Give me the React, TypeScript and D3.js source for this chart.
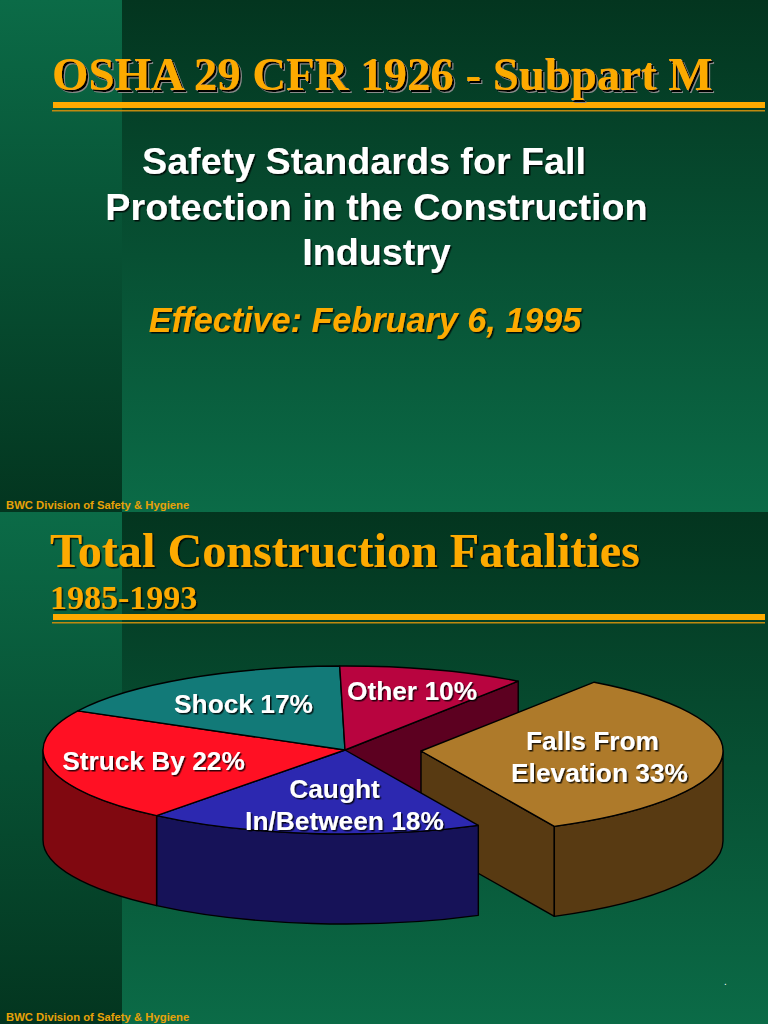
import React from "react";
import * as d3 from "d3";

const W = 768;
const H = 1024;

const categories = ["Falls From Elevation", "Caught In/Between", "Struck By", "Shock", "Other"];
const shares = [33, 18, 22, 17, 10];
const topColors = ["#ae7a2a", "#2c28b0", "#ff1023", "#127a78", "#b8043f"];
const sideColors = ["#583a12", "#161258", "#800810", "#0a4a48", "#5c0020"];
const labelLines = [
  ["Falls From", "Elevation 33%"],
  ["Caught", "In/Between 18%"],
  ["Struck By 22%"],
  ["Shock 17%"],
  ["Other 10%"],
];
const labelX = [
  [592.5, 599.5],
  [334.5, 344.5],
  [153.5],
  [243.5],
  [412],
];
const labelY = [750, 798, 770, 713, 700];

const subtitleLines = ["Safety Standards for Fall", "Protection in the Construction", "Industry"];
const subtitleX = [364, 376.5, 376.5];
const subtitleY = [174, 220, 265];

const rad = (d: number) => (d * Math.PI) / 180;
const cx = 345;
const cy = 750;
const rx = 302;
const ry = 84;
const depth = 90;
const explodeX = 76;
const explodeY = 1;

const pie = d3.pie<number>().sort(null).startAngle(rad(35)).endAngle(rad(395));
const arcs = pie(shares);

const xS = d3.scaleLinear().domain([-1, 1]).range([-rx, rx]);
const yS = d3.scaleLinear().domain([-1, 1]).range([-ry, ry]);
const px = (a: number) => xS(Math.sin(a));
const py = (a: number) => yS(-Math.cos(a));

function topPath(a0: number, a1: number) {
  const large = a1 - a0 > Math.PI ? 1 : 0;
  return `M0,0L${px(a0)},${py(a0)}A${rx},${ry} 0 ${large} 1 ${px(a1)},${py(a1)}Z`;
}
function sidePath(a0: number, a1: number) {
  const b0 = Math.max(a0, rad(90));
  const b1 = Math.min(a1, rad(270));
  if (b1 <= b0) return "";
  return `M${px(b0)},${py(b0)}A${rx},${ry} 0 0 1 ${px(b1)},${py(b1)}L${px(b1)},${py(b1) + depth}A${rx},${ry} 0 0 0 ${px(b0)},${py(b0) + depth}Z`;
}
function wallPath(a: number) {
  return `M0,0L${px(a)},${py(a)}L${px(a)},${py(a) + depth}L0,${depth}Z`;
}

function Slide({ y0 }: { y0: number }) {
  return (
    <g transform={`translate(0,${y0})`}>
      <rect x={0} y={0} width={W} height={512} fill="url(#panelRight)" />
      <rect x={0} y={0} width={122} height={512} fill="url(#panelLeft)" />
      <rect x={53} y={102} width={712} height={6} fill="#fdaa00" />
      <rect x={52} y={110} width={713} height={1.5} fill="#c08a10" />
      <text x={6} y={509 - 0} fontFamily="Liberation Sans" fontWeight={700} fontSize={11.3} fill="#e8a208">
        BWC Division of Safety &amp; Hygiene
      </text>
    </g>
  );
}

export default function App() {
  const falls = arcs[0];
  const main = arcs.slice(1);
  const other = arcs[4];
  const stroke = { stroke: "#000", strokeWidth: 1.4, strokeLinejoin: "round" as const };
  return (
    <svg
      width={W}
      height={H}
      viewBox={`0 0 ${W} ${H}`}
      style={{ position: "absolute", left: 0, top: 0, display: "block" }}
    >
      <defs>
        <linearGradient id="panelRight" x1="0" y1="0" x2="0" y2="1">
          <stop offset="0" stopColor="#03351f" />
          <stop offset="1" stopColor="#0b6b47" />
        </linearGradient>
        <linearGradient id="panelLeft" x1="0" y1="0" x2="0" y2="1">
          <stop offset="0" stopColor="#0b6b47" />
          <stop offset="1" stopColor="#03351f" />
        </linearGradient>
        <filter id="titleShadow" x="-5%" y="-20%" width="110%" height="140%">
          <feDropShadow dx={2} dy={2} stdDeviation={0.3} floodColor="#000" />
          <feDropShadow dx={1} dy={1} stdDeviation={0.3} floodColor="#8a8a8a" />
        </filter>
        <filter id="softShadow" x="-5%" y="-20%" width="110%" height="140%">
          <feDropShadow dx={1.5} dy={1.5} stdDeviation={0.7} floodColor="#000" floodOpacity={0.8} />
        </filter>
      </defs>

      <Slide y0={0} />
      <Slide y0={512} />

      <text x={52} y={90} fontFamily="Liberation Serif" fontWeight={700} fontSize={46.8} fill="#fdaa00" filter="url(#titleShadow)">
        OSHA 29 CFR 1926 - Subpart M
      </text>
      <g fontFamily="Liberation Sans" fontWeight={700} fontSize={37.7} fill="#fff" textAnchor="middle" filter="url(#softShadow)">
        {subtitleLines.map((t, i) => (
          <text key={t} x={subtitleX[i]} y={subtitleY[i]}>{t}</text>
        ))}
      </g>
      <text x={365} y={332} fontFamily="Liberation Sans" fontWeight={700} fontStyle="italic" fontSize={34.2} fill="#fdaa00" textAnchor="middle" filter="url(#softShadow)">
        Effective: February 6, 1995
      </text>

      <text x={50} y={567} fontFamily="Liberation Serif" fontWeight={700} fontSize={48.2} fill="#fdaa00" filter="url(#softShadow)">
        Total Construction Fatalities
      </text>
      <text x={50} y={609} fontFamily="Liberation Serif" fontWeight={700} fontSize={34} fill="#fdaa00" filter="url(#softShadow)">
        1985-1993
      </text>

      <g transform={`translate(${cx},${cy})`}>
        <path d={wallPath(other.endAngle)} fill={sideColors[4]} {...stroke} />
        <g transform={`translate(${explodeX},${explodeY})`}>
          <path d={wallPath(falls.endAngle)} fill={sideColors[0]} {...stroke} />
          <path d={sidePath(falls.startAngle, falls.endAngle)} fill={sideColors[0]} {...stroke} />
          <path d={topPath(falls.startAngle, falls.endAngle)} fill={topColors[0]} {...stroke} />
        </g>
        {main.map((a, i) => (
          <path key={categories[i + 1] + "side"} d={sidePath(a.startAngle, a.endAngle)} fill={sideColors[i + 1]} {...stroke} />
        ))}
        {main.map((a, i) => (
          <path key={categories[i + 1]} d={topPath(a.startAngle, a.endAngle)} fill={topColors[i + 1]} {...stroke} />
        ))}
      </g>

      <g fontFamily="Liberation Sans" fontWeight={700} fontSize={26.3} fill="#fff" textAnchor="middle" filter="url(#softShadow)">
        {labelLines.map((lines, i) => (
          <text key={categories[i]}>
            {lines.map((l, j) => (
              <tspan key={l} x={labelX[i][j]} y={labelY[i] + j * 32}>{l}</tspan>
            ))}
          </text>
        ))}
      </g>

      <text x={724} y={985} fontFamily="Liberation Sans" fontSize={10} fill="#fff">.</text>
    </svg>
  );
}
